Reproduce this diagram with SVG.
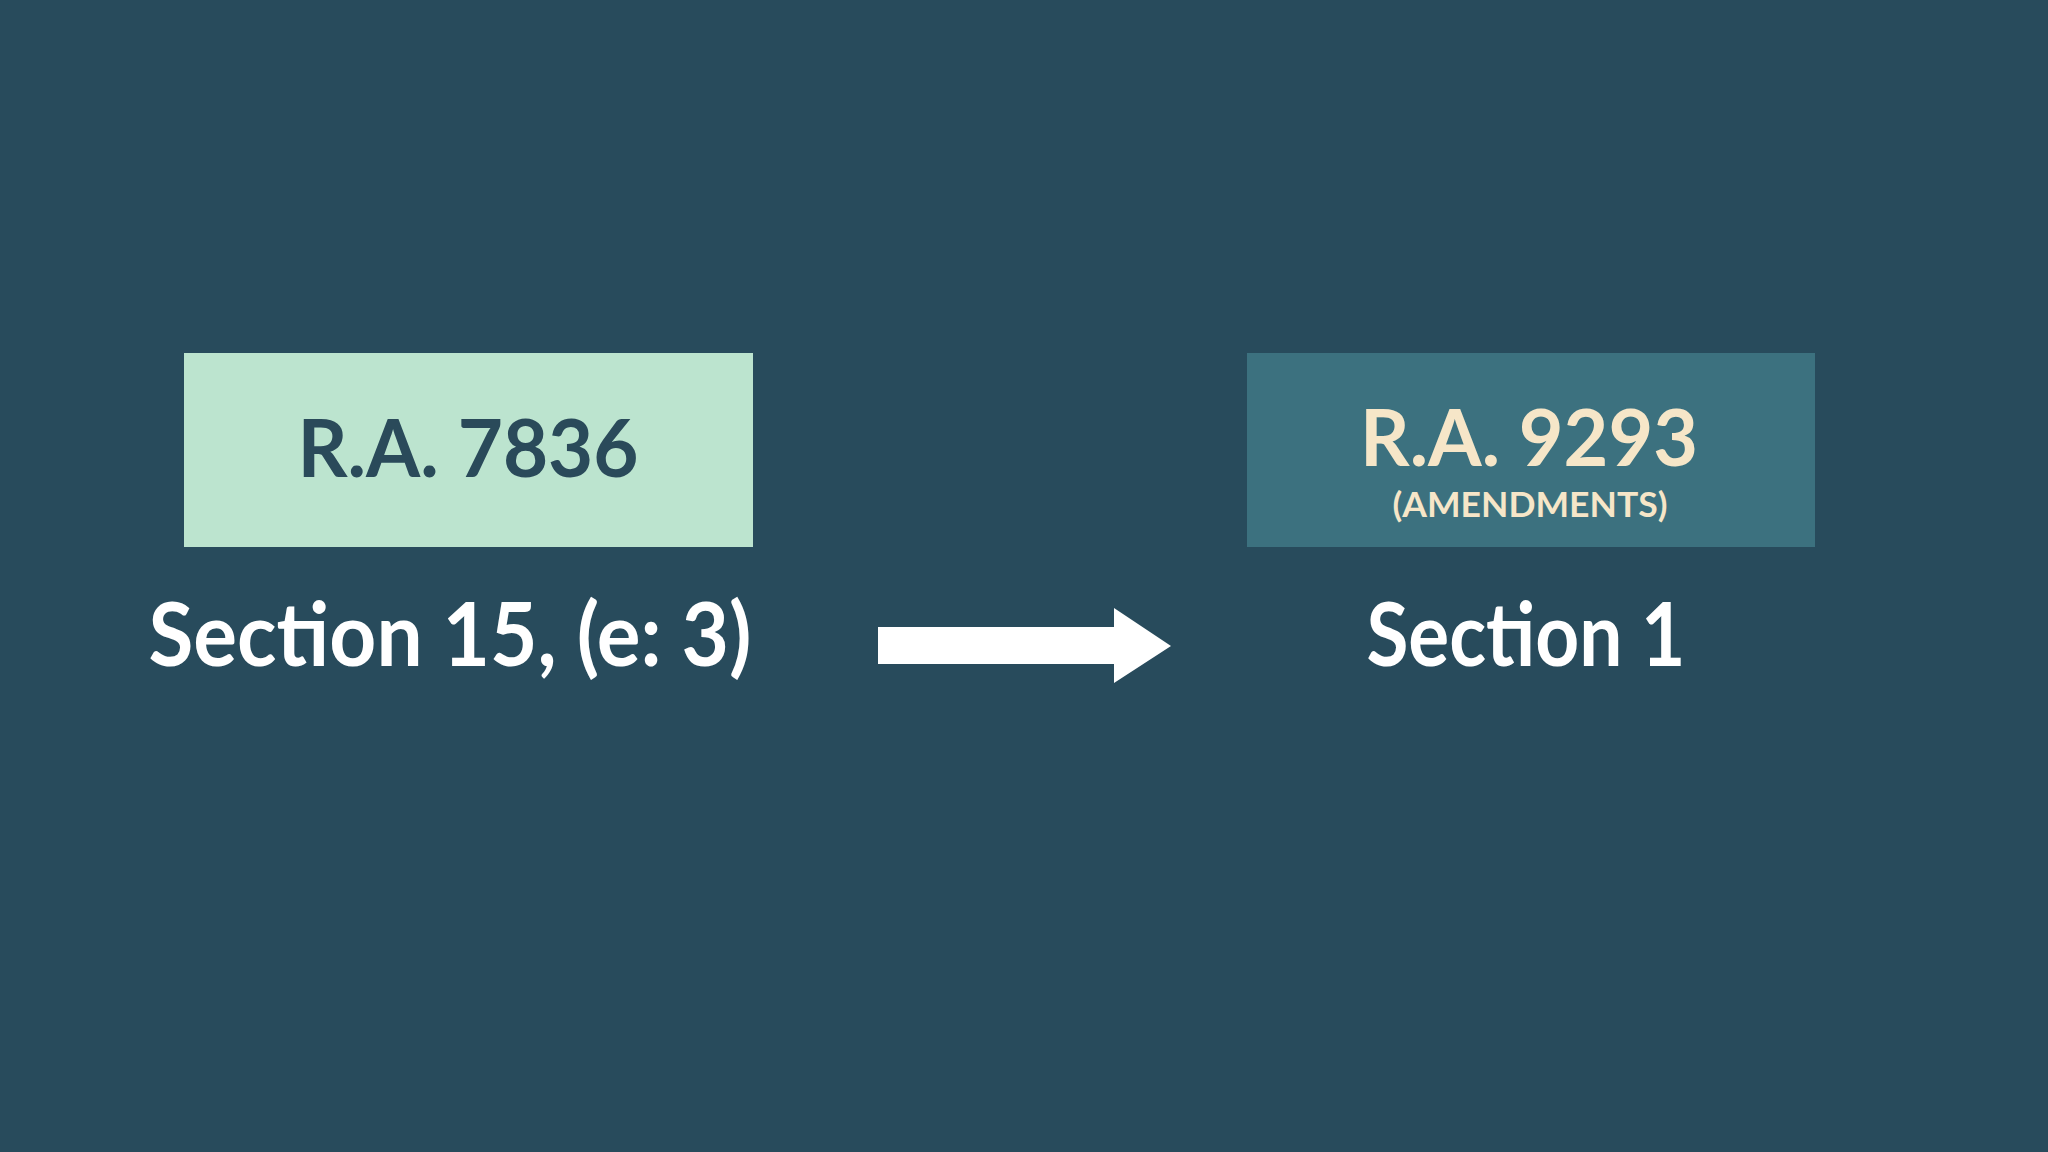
<svg xmlns="http://www.w3.org/2000/svg" width="2048" height="1152" viewBox="0 0 2048 1152">
<style>
text{font-family:Lato,"Liberation Sans",sans-serif;font-weight:700;text-anchor:middle}
.big{font-size:80px}
.sec{font-size:88px;fill:#ffffff}
</style>
<rect width="2048" height="1152" fill="#284b5c"/>
<g id="ra7836">
<rect x="184" y="353" width="569" height="194" fill="#bce4cf"/>
<text class="big" x="468" y="477" fill="#2a4a5a" textLength="341" lengthAdjust="spacingAndGlyphs">R.A. 7836</text>
</g>
<g id="ra9293">
<rect x="1247" y="353" width="568" height="194" fill="#3c717f"/>
<text x="1529" y="466" font-size="79" fill="#f6e6c8" textLength="338" lengthAdjust="spacingAndGlyphs">R.A. 9293</text>
<text x="1530" y="517" font-size="34" font-weight="600" fill="#f6e6c8" textLength="275" lengthAdjust="spacingAndGlyphs">(AMENDMENTS)</text>
</g>
<g id="sec15">
<text class="sec" x="450" y="666" textLength="603" lengthAdjust="spacingAndGlyphs">Section 15, (e: 3)</text>
</g>
<g id="sec1">
<text class="sec" x="1526" y="666" textLength="319" lengthAdjust="spacingAndGlyphs">Section 1</text>
</g>
<g id="connectors">
<polygon points="878,627 1114,627 1114,608 1171,646 1114,683 1114,664 878,664" fill="#ffffff"/>
</g>
</svg>
